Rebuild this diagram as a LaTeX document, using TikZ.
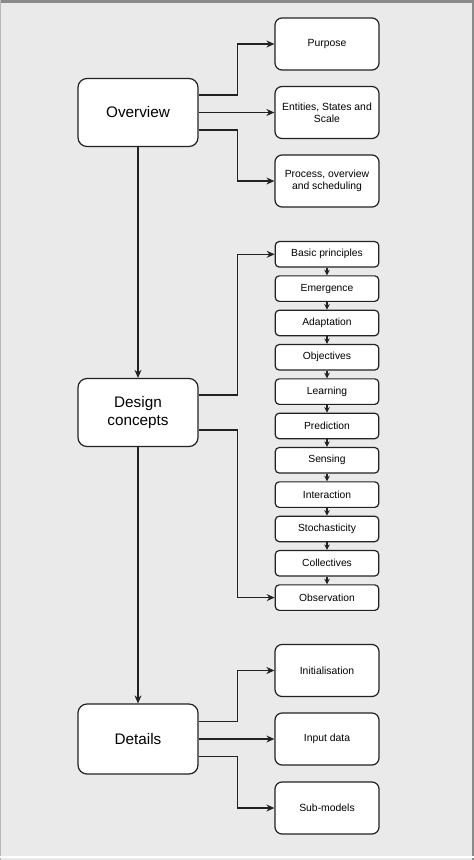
\documentclass[tikz,border=0pt]{standalone}
\usepackage{fontspec}
\setmainfont{Liberation Sans}
\usetikzlibrary{arrows.meta,positioning,calc}
\definecolor{bgc}{HTML}{EAEAEA}
\definecolor{framec}{HTML}{8A8A8A}
\definecolor{linec}{HTML}{222222}
\tikzset{
  bigbox/.style={draw=linec, fill=white, line width=1.2pt, rounded corners=9pt,
    minimum width=120pt, minimum height=68pt, inner sep=0pt, align=center,
    font=\fontsize{15.3}{18.5}\selectfont},
  itembox/.style={draw=linec, fill=white, line width=1.2pt, rounded corners=7pt,
    minimum width=104pt, minimum height=52pt, inner sep=0pt, align=center,
    font=\fontsize{10.4}{12.3}\selectfont},
  smallbox/.style={draw=linec, fill=white, line width=1.2pt, rounded corners=4pt,
    minimum width=103.5pt, minimum height=25.5pt, inner sep=0pt, align=center,
    font=\fontsize{10.3}{12}\selectfont},
  arr/.style={draw=linec, line width=1.2pt, -{Stealth[length=8pt,width=7pt]}},
  sarr/.style={draw=linec, line width=1.2pt, -{Stealth[length=5.5pt,width=5.5pt]}}
}
\begin{document}
\begin{tikzpicture}[x=1pt,y=-1pt]
\useasboundingbox (0,0) rectangle (474,860);
\fill[bgc] (0,0) rectangle (474,860);
\fill[framec] (0,0) rectangle (474,2.5);
\fill[framec] (471.5,0) rectangle (474,860);
\fill[framec!60] (0,0) rectangle (1,860);
\fill[white!90!bgc] (0,856) rectangle (474,857.5);

% main boxes
\node[bigbox] (ov) at (138,112.5) {Overview};
\node[bigbox] (dc) at (138,412.5) {Design\\concepts};
\node[bigbox, minimum height=70pt] (de) at (138,739) {Details};

% overview items
\node[itembox] (pu) at (327,44) {Purpose};
\node[itembox] (en) at (327,112.5) {Entities, States and\\Scale};
\node[itembox] (pr) at (327,181) {Process, overview\\and scheduling};

% details items
\node[itembox] (in) at (327,670.5) {Initialisation};
\node[itembox] (id) at (327,739) {Input data};
\node[itembox] (sm) at (327,808) {Sub-models};

% design concept items
\foreach \name/\txt [count=\i from 0] in {bp/Basic principles, em/Emergence, ad/Adaptation, ob/Objectives, le/Learning, pd/Prediction, se/Sensing, ia/Interaction, st/Stochasticity, co/Collectives, os/Observation}{
  \node[smallbox] (\name) at (327,{254.3+34.33*\i}) {\txt};
}

% chain arrows
\foreach \a/\b in {bp/em, em/ad, ad/ob, ob/le, le/pd, pd/se, se/ia, ia/st, st/co, co/os}{
  \draw[sarr] (\a.south) -- (\b.north);
}

% main vertical
\draw[arr] (ov.south) -- (dc.north);
\draw[arr] (dc.south) -- (de.north);

% overview connectors
\draw[arr] ([yshift=17.5pt]ov.east) -- ++(38.5,0) |- (pu.west);
\draw[arr] (ov.east) -- (en.west);
\draw[arr] ([yshift=-17.5pt]ov.east) -- ++(38.5,0) |- (pr.west);

% design connectors
\draw[arr] ([yshift=17.5pt]dc.east) -- ++(38.5,0) |- (bp.west);
\draw[arr] ([yshift=-17.5pt]dc.east) -- ++(38.5,0) |- (os.west);

% details connectors
\draw[arr] ([yshift=17.3pt]de.east) -- ++(38.5,0) |- (in.west);
\draw[arr] (de.east) -- (id.west);
\draw[arr] ([yshift=-17.3pt]de.east) -- ++(38.5,0) |- (sm.west);
\end{tikzpicture}
\end{document}
